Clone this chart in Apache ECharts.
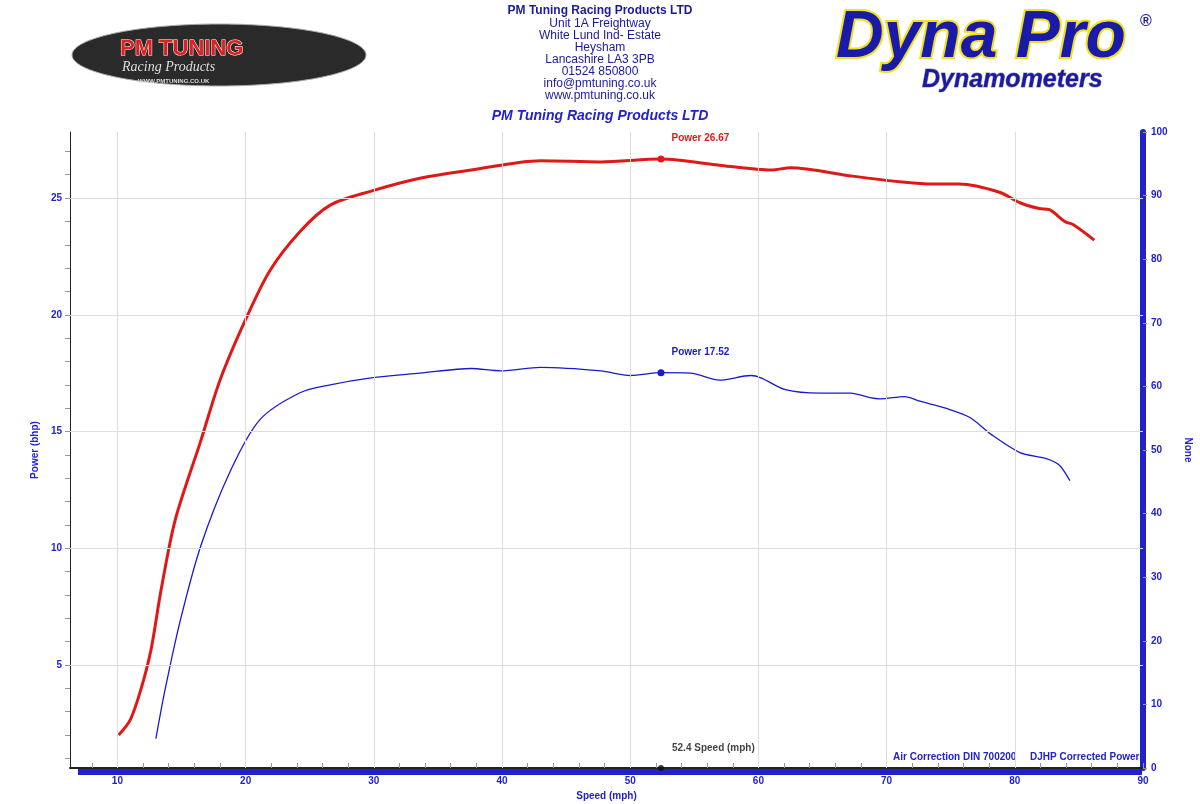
<!DOCTYPE html>
<html>
<head>
<meta charset="utf-8">
<script src="https://cdn.jsdelivr.net/npm/echarts@6/dist/echarts.min.js"></script>
<style>html,body{margin:0;background:#fff}#chart{width:1200px;height:804px}</style>
</head>
<body>
<div id="chart"></div>
<script>
// 红线：功率（校正）
const redSpeed = [10.1,11.0,11.8,12.6,13.4,14.5,16.5,18.0,20.0,21.9,24.3,26.6,29.8,33.6,37.6,43.0,47.7,52.4,57.1,61.0,62.5,67.2,71.0,73.7,75.7,78.8,80.4,81.9,82.7,83.9,84.6,86.2]
const redPower = [2.0,2.65,3.9,5.6,8.2,11.2,14.6,17.2,19.8,21.9,23.6,24.7,25.3,25.85,26.2,26.6,26.55,26.67,26.4,26.2,26.3,25.95,25.7,25.6,25.6,25.25,24.8,24.55,24.5,24.0,23.85,23.2]
// 蓝线
const blueSpeed = [13.0,13.7,14.9,16.5,18.8,21.1,24.2,26.6,29.8,33.6,37.6,39.9,43.0,47.7,50.0,52.4,54.7,57.0,59.4,60.2,62.1,64.8,67.2,68.7,69.5,71.4,72.6,74.6,76.5,78.1,80.4,82.4,83.5,84.3]
const bluePower = [1.85,3.9,6.9,10.1,13.3,15.5,16.65,17.0,17.3,17.5,17.7,17.6,17.75,17.6,17.4,17.52,17.5,17.2,17.4,17.3,16.8,16.65,16.65,16.45,16.4,16.5,16.3,16.0,15.6,14.9,14.1,13.85,13.55,12.9]
const cursorSpeed = 52.4
const powerTicks = [5, 10, 15, 20, 25]
const powerMinor = [1,2,3,4,5,6,7,8,9,10,11,12,13,14,15,16,17,18,19,20,21,22,23,24,25,26,27]
const speedTicks = [10, 20, 30, 40, 50, 60, 70, 80, 90]

const pair = (xs, ys) => xs.map((x, i) => [x, ys[i]])
const blue = '#2222cc'

const myChart = echarts.init(document.getElementById('chart'))
const option = {
  animation: false,
  grid: { left: 70, right: 57, top: 132, bottom: 36, outerBoundsMode: 'none', containLabel: false },
  graphic: [
    { type: 'text', x: 600, y: 5, style: { text: 'PM Tuning Racing Products LTD', font: 'bold 12px Liberation Sans', fill: '#1a1a99', align: 'center' } },
    { type: 'text', x: 600, y: 18, style: { text: 'Unit 1A Freightway\nWhite Lund Ind- Estate\nHeysham\nLancashire LA3 3PB\n01524 850800\ninfo@pmtuning.co.uk\nwww.pmtuning.co.uk', font: '12px Liberation Sans', fill: '#1a1a99', align: 'center', lineHeight: 12 } },
    { type: 'text', x: 600, y: 109, style: { text: 'PM Tuning Racing Products LTD', font: 'italic bold 14px Liberation Sans', fill: '#2222cc', align: 'center' } },
    { type: 'ellipse', shape: { cx: 219, cy: 55, rx: 147, ry: 31 }, style: { fill: '#2a2a2a', stroke: '#aaa', lineWidth: 1 } },
    { type: 'text', x: 120, y: 38, style: { text: 'PM TUNING', font: 'bold 22px Liberation Sans', fill: '#e02020', stroke: '#fff', lineWidth: 1 } },
    { type: 'text', x: 122, y: 60, style: { text: 'Racing Products', font: 'italic 14px Liberation Serif', fill: '#ddd' } },
    { type: 'text', x: 138, y: 78, style: { text: 'WWW.PMTUNING.CO.UK', font: 'bold 6px Liberation Sans', fill: '#ddd' } },
    { type: 'text', x: 836, y: 6, style: { text: 'Dyna Pro', font: 'italic bold 66px Liberation Sans', fill: '#1a1aaa', stroke: '#f0e020', lineWidth: 4 } },
    { type: 'text', x: 1140, y: 14, style: { text: '®', font: 'bold 16px Liberation Sans', fill: '#1a1aaa' } },
    { type: 'text', x: 922, y: 68, style: { text: 'Dynamometers', font: 'italic bold 25px Liberation Sans', fill: '#1a1aaa', stroke: '#999', lineWidth: 1 } },
    { type: 'rect', shape: { x: 78, y: 769, width: 1064, height: 6 }, style: { fill: '#2222cc' } },
    { type: 'text', x: 893, y: 752, style: { text: 'Air Correction DIN 700200', font: 'bold 10px Liberation Sans', fill: blue } },
    { type: 'text', x: 1030, y: 752, style: { text: 'DJHP Corrected Power', font: 'bold 10px Liberation Sans', fill: blue } }
  ],
  xAxis: {
    type: 'value', min: 6.3, max: 90,
    name: 'Speed (mph)', nameLocation: 'middle', nameGap: 22,
    nameTextStyle: { color: blue, fontSize: 10, fontWeight: 'bold' },
    axisLabel: { color: blue, fontSize: 10, fontWeight: 'bold', margin: 8, customValues: speedTicks },
    axisLine: { lineStyle: { color: '#222', width: 2 } },
    axisTick: { customValues: [8,10,12,14,16,18,20,22,24,26,28,30,32,34,36,38,40,42,44,46,48,50,52,54,56,58,60,62,64,66,68,70,72,74,76,78,80,82,84,86,88,90], inside: true, length: 5, lineStyle: { color: '#999' } },
    splitLine: { show: false }
  },
  yAxis: [{
    type: 'value', min: 0.59, max: 27.83,
    name: 'Power (bhp)', nameLocation: 'middle', nameGap: 30,
    nameTextStyle: { color: blue, fontSize: 10, fontWeight: 'bold' },
    axisLabel: { color: blue, fontSize: 10, fontWeight: 'bold', customValues: powerTicks },
    axisTick: { customValues: powerMinor, length: 5, lineStyle: { color: '#999' } },
    axisLine: { show: true, lineStyle: { color: '#222', width: 1 } },
    splitLine: { show: false }
  }, {
    type: 'value', min: 0, max: 100, interval: 10, position: 'right',
    name: 'None', nameLocation: 'middle', nameGap: 40, nameRotate: -90,
    nameTextStyle: { color: blue, fontSize: 10, fontWeight: 'bold' },
    axisLabel: { color: blue, fontSize: 10, fontWeight: 'bold' },
    axisTick: { show: true, length: 4, lineStyle: { color: '#999' } },
    minorTick: { show: true, splitNumber: 2, length: 3 },
    axisLine: { show: true, lineStyle: { color: '#2222cc', width: 6 } },
    splitLine: { show: false }
  }],
  series: [
    {
      // 网格线
      type: 'line', data: [], silent: true,
      markLine: {
        silent: true, symbol: 'none', label: { show: false },
        lineStyle: { color: '#ddd', width: 1, type: 'solid' },
        data: powerTicks.map(v => ({ yAxis: v })).concat(speedTicks.slice(0, -1).map(v => ({ xAxis: v })))
      }
    },
    {
      type: 'line', data: pair(redSpeed, redPower), smooth: 0.3, symbol: 'none',
      lineStyle: { color: '#e01818', width: 3 },
      markPoint: {
        symbol: 'circle', symbolSize: 7, itemStyle: { color: '#e01818' },
        label: { show: true, position: [14, -22], formatter: 'Power 26.67', color: '#e01818', fontSize: 10, fontWeight: 'bold' },
        data: [{ coord: [cursorSpeed, 26.67] }]
      }
    },
    {
      type: 'line', data: pair(blueSpeed, bluePower), smooth: 0.3, symbol: 'none',
      lineStyle: { color: '#1a1acc', width: 1.3 },
      markPoint: {
        symbol: 'circle', symbolSize: 7, itemStyle: { color: '#1a1acc' },
        label: { show: true, position: [14, -22], formatter: 'Power 17.52', color: '#1a1acc', fontSize: 10, fontWeight: 'bold' },
        data: [{ coord: [cursorSpeed, 17.52] }]
      }
    },
    {
      type: 'scatter', symbolSize: 6, itemStyle: { color: '#111' },
      data: [[cursorSpeed, 0.59]],
      label: { show: true, position: [14, -22], formatter: '52.4 Speed (mph)', color: '#111', fontSize: 10, fontWeight: 'bold' }
    }
  ]
}
myChart.setOption(option)
</script>
</body>
</html>
